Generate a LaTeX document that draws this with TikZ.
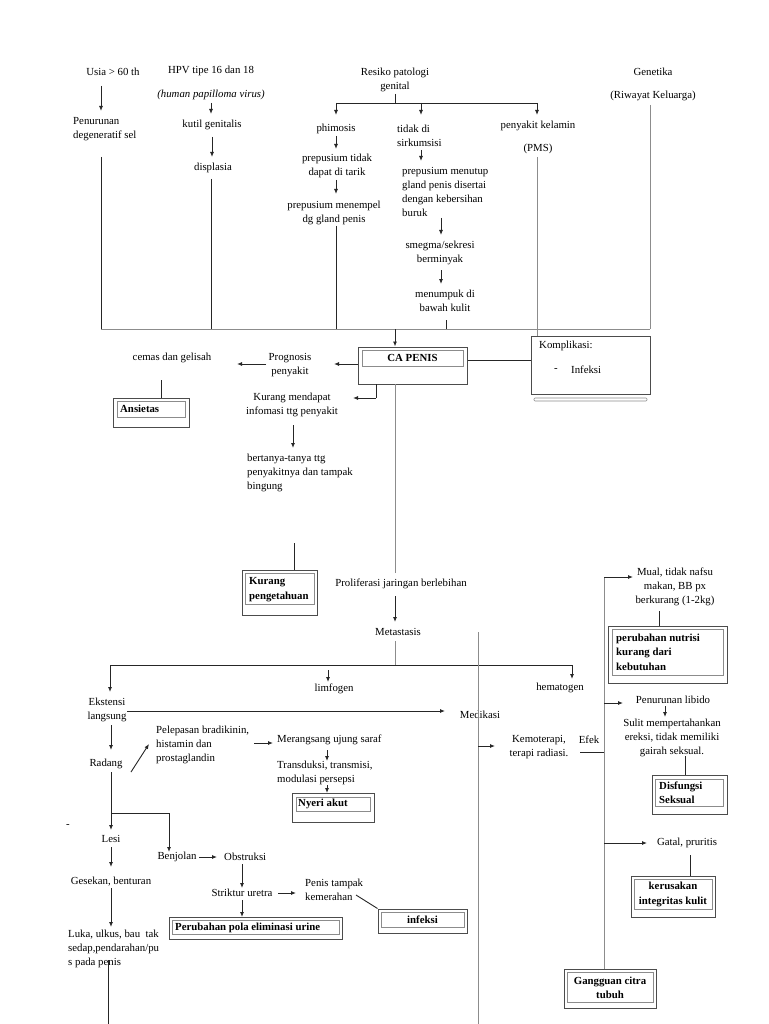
\documentclass[tikz,border=0pt]{standalone}
\usepackage{fontspec}
\setmainfont{Liberation Serif}
\usetikzlibrary{arrows.meta}
\begin{document}
\begin{tikzpicture}[x=1pt,y=-1pt,
 every node/.style={font=\fontsize{10.8}{14}\selectfont, inner sep=0pt},
 t/.style={align=center},
 tl/.style={align=left, anchor=west},
 bt/.style={font=\fontsize{10.8}{14.5}\selectfont\bfseries},
 ln/.style={draw=black!85, line width=0.9pt},
 gl/.style={draw=black!45, line width=1pt},
 arr/.style={ln, -{Latex[length=5pt,width=4pt]}},
 ob/.style={draw=black!70, line width=1pt},
 ib/.style={draw=black!45, line width=0.8pt},
]
\fill[white] (0,0) rectangle (768,1024);
\path[use as bounding box] (0,0) rectangle (768,1024);

% ---------- top row ----------
\node[t] (usia) at (113,72) {Usia > 60 th};
\node[tl] (pen) at (73,129) {Penurunan\\degeneratif sel};
\node[t] (hpv) at (211,71) {HPV tipe 16 dan 18};
\node[t] (hpvi) at (211,95) {\itshape (human papilloma virus)};
\node[t] (kutil) at (212,125) {kutil genitalis};
\node[t] (displ) at (213,168) {displasia};
\node[t] (resiko) at (395,80) {Resiko patologi\\genital};
\node[t] (phim) at (336,129) {phimosis};
\node[t] (prep1) at (337,166) {prepusium tidak\\dapat di tarik};
\node[t] (prep2) at (334,213) {prepusium menempel\\dg gland penis};
\node[tl] (tdk) at (397,136) {tidak di\\sirkumsisi};
\node[tl] (prep3) at (402,191.5) {prepusium menutup\\gland penis disertai\\dengan kebersihan\\buruk};
\node[t] (smeg) at (440,253) {smegma/sekresi\\berminyak};
\node[t] (menum) at (445,301) {menumpuk di\\bawah kulit};
\node[t] (pms) at (538,126) {penyakit kelamin};
\node[t] (pms2) at (538,149) {(PMS)};
\node[t] (gen) at (653,72) {Genetika};
\node[t] (gen2) at (653,96) {(Riwayat Keluarga)};

\draw[arr] (101,86) -- (101,111);
\draw[ln] (101,157) -- (101,329);
\draw[arr] (211,103) -- (211,114);
\draw[arr] (212,137) -- (212,157);
\draw[ln] (211,179) -- (211,329);
\draw[ln] (395,94) -- (395,103);
\draw[ln] (336,103) -- (537,103);
\draw[arr] (336,103) -- (336,115);
\draw[arr] (421,103) -- (421,115);
\draw[arr] (537,103) -- (537,115);
\draw[arr] (336,136) -- (336,149);
\draw[arr] (336,180) -- (336,194);
\draw[ln] (336,226) -- (336,329);
\draw[arr] (421,150) -- (421,161);
\draw[arr] (441,218) -- (441,235);
\draw[arr] (441,270) -- (441,284);
\draw[ln] (446,320) -- (446,329);
\draw[gl] (537,157) -- (537,336);
\draw[gl] (650,105) -- (650,329);
\draw[gl] (101,329) -- (650,329);

% ---------- CA PENIS ----------
\node[ob, minimum width=109pt, minimum height=37pt] (ca) at (412.5,365.5) {};
\node[ib, minimum width=101pt, minimum height=16pt] (cain) at (412.5,358) {};
\node[bt] (catx) at (412.5,358) {CA PENIS};
\draw[arr] (395,329) -- (ca.north -| 395,0);

\node[ob, minimum width=119pt, minimum height=58pt] (komp) at (590.5,365) {};
\node[tl] (komt) at (539,346) {Komplikasi:};
\node[t] (komd) at (556,370) {-};
\node[tl] (komi) at (571,370) {Infeksi};
\draw[black!45, line width=0.6pt, rounded corners=1pt] (534,398) rectangle (647,401);
\draw[ln] (ca.east |- 0,360) -- (komp.west |- 0,360);

\node[t] (prog) at (290,365) {Prognosis\\penyakit};
\node[t] (cemas) at (172,358) {cemas dan gelisah};
\draw[arr] (ca.west |- 0,364) -- (334,364);
\draw[arr] (266,364) -- (237,364);
\draw[ln] (161,380) -- (161,398);
\node[ob, minimum width=76pt, minimum height=29pt] (ans) at (151,412.5) {};
\node[ib, minimum width=68pt, minimum height=16pt] (ansin) at (151,409) {};
\node[bt, tl] (anst) at (120,409) {Ansietas};

\node[t] (kurang) at (292,405) {Kurang mendapat\\infomasi ttg penyakit};
\draw[ln] (376,384) -- (376,398);
\draw[arr] (376,398) -- (353,398);
\draw[arr] (293,425) -- (293,448);
\node[tl] (bert) at (247,473) {bertanya-tanya ttg\\penyakitnya dan tampak\\bingung};

\draw[ln] (294,543) -- (294,570);
\node[ob, minimum width=75pt, minimum height=45pt] (kp) at (279.5,592.5) {};
\node[ib, minimum width=69pt, minimum height=31pt] (kpin) at (279.5,588.5) {};
\node[bt, tl] (kpt) at (249,589.5) {Kurang\\pengetahuan};

\draw[gl] (395,384) -- (395,573);
\node[t] (prolif) at (401,584) {Proliferasi jaringan berlebihan};
\draw[arr] (395,596) -- (395,622);
\node[t] (meta) at (398,632) {Metastasis};
\draw[gl] (395,641) -- (395,665);
\draw[ln] (110,665) -- (572,665);
\draw[arr] (110,665) -- (110,692);
\draw[arr] (328,670) -- (328,682);
\draw[arr] (572,665) -- (572,679);
\node[t] (ekst) at (107,709.5) {Ekstensi\\langsung};
\node[t] (limf) at (334,689) {limfogen};
\node[t] (hema) at (560,688) {hematogen};
\node[t] (medik) at (480,715) {Medikasi};
\draw[gl] (478,632) -- (478,1024);
\draw[arr] (127,711) -- (445,711);
\draw[arr] (478,746) -- (495,746);
\node[t] (kemo) at (539,747) {Kemoterapi,\\terapi radiasi.};
\node[t] (efek) at (589,740) {Efek};
\draw[ln] (580,752) -- (604,752);
\draw[gl] (604,577) -- (604,969);
\draw[arr] (604,577) -- (633,577);
\draw[arr] (604,703) -- (623,703);
\draw[arr] (604,843) -- (647,843);

% ---------- right column ----------
\node[t] (mual) at (675,587) {Mual, tidak nafsu\\makan, BB px\\berkurang (1-2kg)};
\draw[ln] (659,611) -- (659,626);
\node[ob, minimum width=119pt, minimum height=57pt] (nut) at (667.5,654.5) {};
\node[ib, minimum width=111pt, minimum height=46pt] (nutin) at (667.5,652) {};
\node[bt, tl] (nutt) at (616,652) {perubahan nutrisi\\kurang dari\\kebutuhan};

\node[t] (libido) at (673,700) {Penurunan libido};
\draw[arr] (665,706) -- (665,717);
\node[t] (sulit) at (672,737.5) {Sulit mempertahankan\\ereksi, tidak memiliki\\gairah seksual.};
\draw[ln] (685,756) -- (685,775);
\node[ob, minimum width=75pt, minimum height=39pt] (dis) at (689.5,794.5) {};
\node[ib, minimum width=68pt, minimum height=27pt] (disin) at (689,792.5) {};
\node[bt, tl] (dist) at (659,793) {Disfungsi\\Seksual};

\node[t] (gatal) at (687,843) {Gatal, pruritis};
\draw[ln] (690,855) -- (690,876);
\node[ob, minimum width=84pt, minimum height=41pt] (ker) at (673,896.5) {};
\node[ib, minimum width=78pt, minimum height=30pt] (kerin) at (673,894) {};
\node[bt, t] (kert) at (673,894.5) {kerusakan\\integritas kulit};

\node[ob, minimum width=92pt, minimum height=39pt] (gang) at (610,988.5) {};
\node[ib, minimum width=86pt, minimum height=30pt] (gangin) at (610,987) {};
\node[bt, t] (gangt) at (610,988) {Gangguan citra\\tubuh};

% ---------- left lower ----------
\draw[arr] (111,725) -- (111,750);
\node[t] (radang) at (106,764) {Radang};
\draw[arr] (131,772) -- (149,744);
\node[tl] (pelep) at (156,744.5) {Pelepasan bradikinin,\\histamin dan\\prostaglandin};
\draw[arr] (254,743) -- (273,743);
\node[tl] (meran) at (277,740) {Merangsang ujung saraf};
\draw[arr] (327,750) -- (327,761);
\node[tl] (trans) at (277,772.5) {Transduksi, transmisi,\\modulasi persepsi};
\draw[arr] (327,785) -- (327,793);
\node[ob, minimum width=82pt, minimum height=29pt] (nyeri) at (333,807.5) {};
\node[ib, minimum width=74pt, minimum height=14pt] (nyin) at (333,804) {};
\node[bt, tl] (nyt) at (298,804) {Nyeri akut};

\draw[arr] (111,772) -- (111,830);
\draw[ln] (111,813) -- (169,813);
\draw[arr] (169,813) -- (169,852);
\node[t] (dash) at (68,826) {-};
\node[t] (lesi) at (111,839) {Lesi};
\draw[arr] (111,847) -- (111,867);
\node[t] (gesek) at (111,882) {Gesekan, benturan};
\draw[arr] (111,888) -- (111,927);
\node[tl] (luka) at (68,949) {Luka, ulkus, bau\ \ tak\\sedap,pendarahan/pu\\s pada penis};
\draw[ln] (108,960) -- (108,1024);

\node[t] (benj) at (177,857) {Benjolan};
\draw[arr] (199,857) -- (217,857);
\node[tl] (obst) at (224,857) {Obstruksi};
\draw[arr] (242,864) -- (242,888);
\node[t] (strik) at (242,893) {Striktur uretra};
\draw[arr] (278,893) -- (296,893);
\node[tl] (penis) at (305,889.5) {Penis tampak\\kemerahan};
\node[ob, minimum width=89pt, minimum height=24pt] (inf) at (422.5,921) {};
\node[ib, minimum width=83pt, minimum height=15pt] (infin) at (422.5,919.5) {};
\node[bt, t] (inft) at (422.5,919.5) {infeksi};
\draw[ln] (356,895) -- (inf.north west);
\draw[arr] (242,900) -- (242,917);
\node[ob, minimum width=173pt, minimum height=22pt] (pola) at (255.5,928) {};
\node[ib, minimum width=167pt, minimum height=14pt] (polain) at (255.5,927) {};
\node[bt, tl] (polat) at (175,927.5) {Perubahan pola eliminasi urine};
\end{tikzpicture}
\end{document}
